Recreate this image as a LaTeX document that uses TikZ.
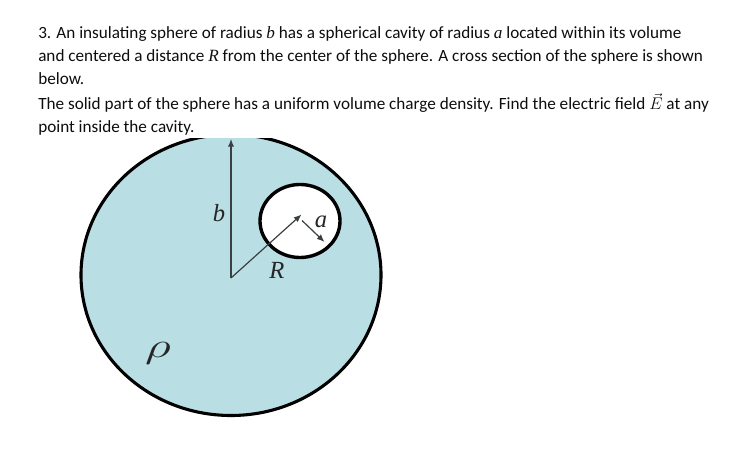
\documentclass[tikz,border=0pt]{standalone}
\usepackage{fontspec}
\setmainfont{Carlito}
\newfontfamily\mathserif{Liberation Serif}
\usepackage{amsmath}
\usetikzlibrary{arrows.meta}
\tikzset{>=latex}
\definecolor{spherefill}{HTML}{B9DEE4}
\definecolor{inktext}{HTML}{262626}
\definecolor{linegray}{HTML}{3A3F42}
\tikzset{
	textline/.style={anchor=base west,inner sep=0pt,font=\fontsize{12.2pt}{14pt}\selectfont,text=black!95},
	labelnode/.style={inner sep=0pt,text=inktext,font=\fontsize{17.5pt}{20pt}\mathserif\itshape},
	radiusline/.style={line width=0.85pt,linegray,-{Latex[length=5.5pt,width=4.5pt]}}
}
\newcommand{\mvar}[1]{{\mathserif\itshape #1}}

\begin{document}
\begin{tikzpicture}[x=0.025cm,y=-0.025cm]
		\useasboundingbox (0,0) rectangle (730,451);
		\coordinate (O) at (231,278);
		\coordinate (B) at (231,139);
		\coordinate (C) at (300,221);
		\coordinate (T) at (301.5,214.5);
		\coordinate (S) at (302,220.5);
		\coordinate (A) at (324.5,242);
		% sphere and cavity
		\begin{scope}
			\clip (0,139) rectangle (730,451);
			\draw[line width=2.2pt,fill=spherefill] (231,275) ellipse [x radius=150,y radius=140.5];
		\end{scope}
		\draw[line width=2.4pt,fill=white] (C) ellipse [x radius=40,y radius=36.5];
		\draw[radiusline] (O)--(B);
		\draw[radiusline] (O)--(T);
		\draw[radiusline] (S)--(A);
		\node[labelnode] (Lb) at (219,213) {b};
		\node[labelnode] (La) at (321,222) {a};
		\node[labelnode] (LR) at (277,270) {R};
		\node[labelnode,font=\fontsize{32pt}{34pt}\selectfont] (Lrho) at (158,353) {\scalebox{1.45}[1]{$\rho$}};
		% question text
		\node[textline] (l1) at (38,39) {3. An insulating sphere of radius \mvar{b} has a spherical cavity of radius \mvar{a} located within its volume};
		\node[textline] (l2) at (38,62) {and centered a distance \mvar{R} from the center of the sphere. A cross section of the sphere is shown};
		\node[textline] (l3) at (38,85) {below.};
		\node[textline] (l4) at (38,110) {The solid part of the sphere has a uniform volume charge density. Find the electric field $\vec{E}$ at any};
		\node[textline] (l5) at (38,133) {point inside the cavity.};
	\end{tikzpicture}
\end{document}
